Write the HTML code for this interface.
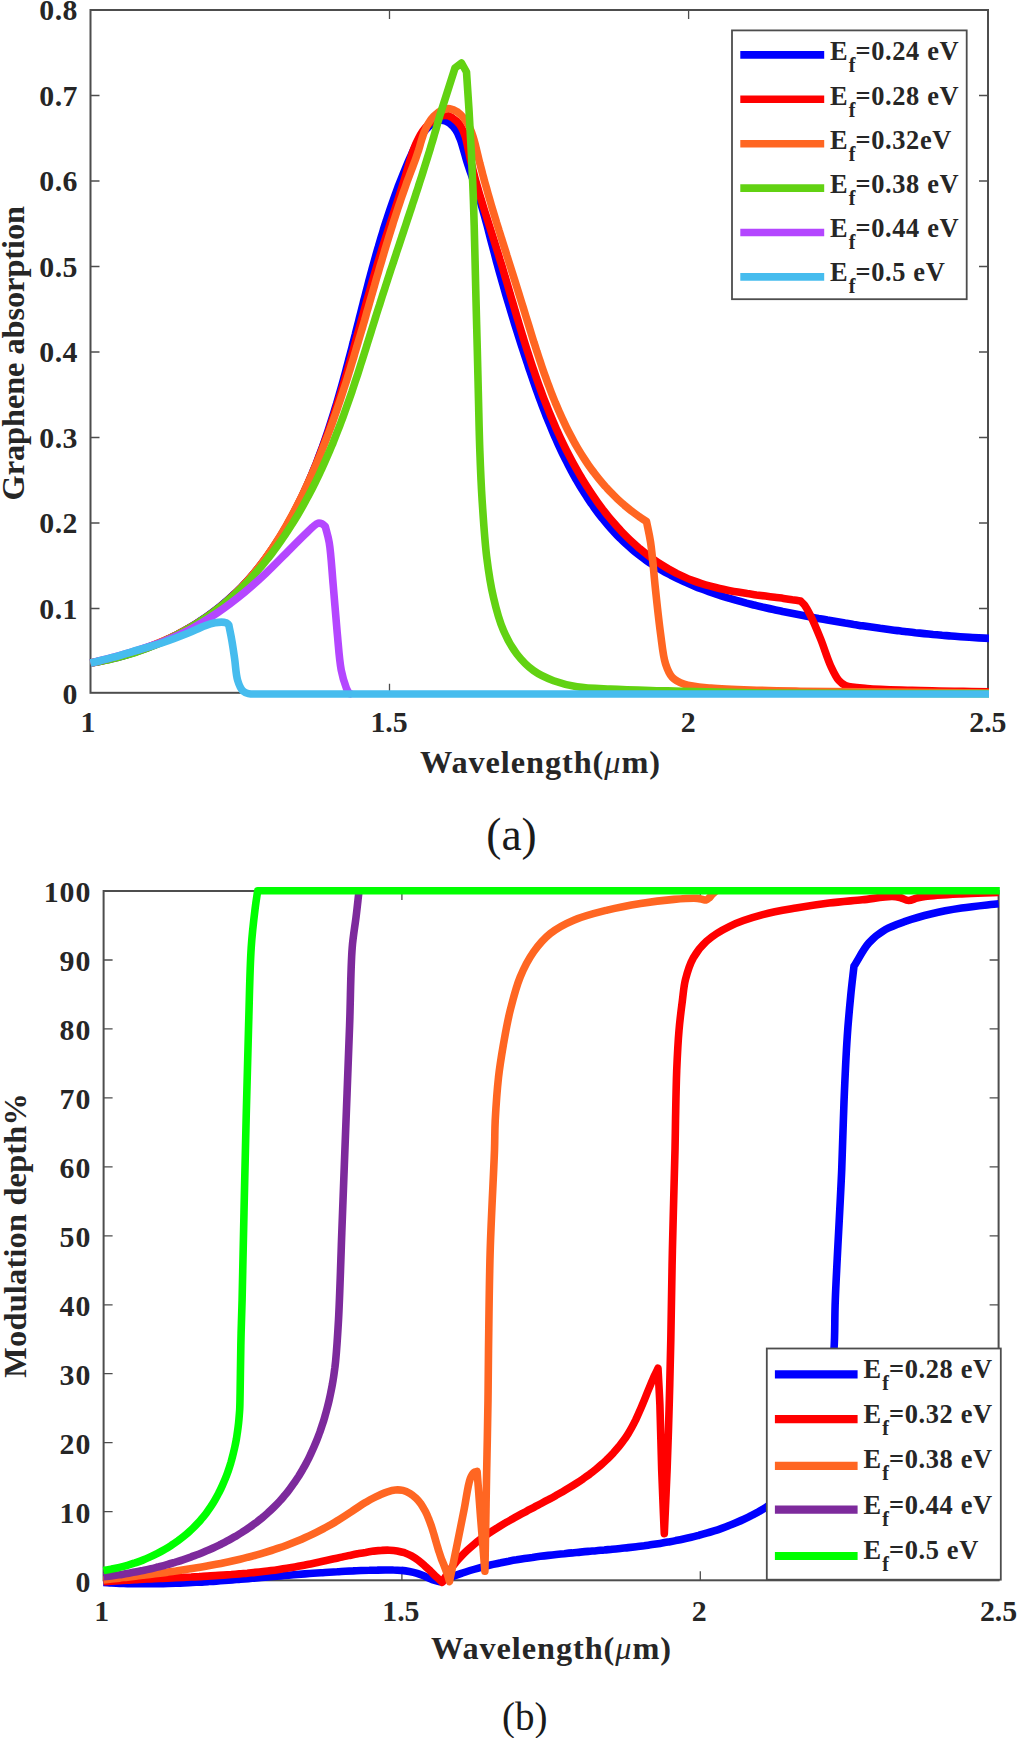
<!DOCTYPE html>
<html lang="en"><head><meta charset="utf-8"><title>Graphene absorption and modulation depth</title>
<style>html,body{margin:0;padding:0;background:#fff}svg{display:block}text{white-space:pre}</style></head>
<body>
<svg width="1017" height="1738" viewBox="0 0 1017 1738">
<rect width="1017" height="1738" fill="#fff"/>
<defs><clipPath id="ca"><rect x="86" y="5" width="903.0" height="700"/></clipPath><clipPath id="cb"><rect x="99" y="880" width="901.2" height="710"/></clipPath></defs>
<rect x="90.5" y="10.0" width="897.5" height="682.8" fill="none" stroke="#4d4d4d" stroke-width="2"/>
<path d="M389.5 692.8v-9.0M389.5 10.0v9.0" stroke="#4d4d4d" stroke-width="1.3" fill="none"/>
<path d="M688.6 692.8v-9.0M688.6 10.0v9.0" stroke="#4d4d4d" stroke-width="1.3" fill="none"/>
<path d="M90.5 608.5h9.0M988.0 608.5h-9.0" stroke="#4d4d4d" stroke-width="1.3" fill="none"/>
<path d="M90.5 523.0h9.0M988.0 523.0h-9.0" stroke="#4d4d4d" stroke-width="1.3" fill="none"/>
<path d="M90.5 437.5h9.0M988.0 437.5h-9.0" stroke="#4d4d4d" stroke-width="1.3" fill="none"/>
<path d="M90.5 352.0h9.0M988.0 352.0h-9.0" stroke="#4d4d4d" stroke-width="1.3" fill="none"/>
<path d="M90.5 266.5h9.0M988.0 266.5h-9.0" stroke="#4d4d4d" stroke-width="1.3" fill="none"/>
<path d="M90.5 181.0h9.0M988.0 181.0h-9.0" stroke="#4d4d4d" stroke-width="1.3" fill="none"/>
<path d="M90.5 95.5h9.0M988.0 95.5h-9.0" stroke="#4d4d4d" stroke-width="1.3" fill="none"/>
<text x="88.0" y="732.3" text-anchor="middle" style="font-family:'Liberation Serif','DejaVu Serif',serif;font-weight:bold;font-size:29.8px" fill="#262626">1</text>
<text x="389.0" y="732.3" text-anchor="middle" style="font-family:'Liberation Serif','DejaVu Serif',serif;font-weight:bold;font-size:29.8px" fill="#262626">1.5</text>
<text x="688.1" y="732.3" text-anchor="middle" style="font-family:'Liberation Serif','DejaVu Serif',serif;font-weight:bold;font-size:29.8px" fill="#262626">2</text>
<text x="987.9" y="732.3" text-anchor="middle" style="font-family:'Liberation Serif','DejaVu Serif',serif;font-weight:bold;font-size:29.8px" fill="#262626">2.5</text>
<text x="78" y="704.3" text-anchor="end" style="font-family:'Liberation Serif','DejaVu Serif',serif;font-weight:bold;font-size:29.8px;letter-spacing:0.5px" fill="#262626">0</text>
<text x="78" y="618.8" text-anchor="end" style="font-family:'Liberation Serif','DejaVu Serif',serif;font-weight:bold;font-size:29.8px;letter-spacing:0.5px" fill="#262626">0.1</text>
<text x="78" y="533.3" text-anchor="end" style="font-family:'Liberation Serif','DejaVu Serif',serif;font-weight:bold;font-size:29.8px;letter-spacing:0.5px" fill="#262626">0.2</text>
<text x="78" y="447.8" text-anchor="end" style="font-family:'Liberation Serif','DejaVu Serif',serif;font-weight:bold;font-size:29.8px;letter-spacing:0.5px" fill="#262626">0.3</text>
<text x="78" y="362.3" text-anchor="end" style="font-family:'Liberation Serif','DejaVu Serif',serif;font-weight:bold;font-size:29.8px;letter-spacing:0.5px" fill="#262626">0.4</text>
<text x="78" y="276.8" text-anchor="end" style="font-family:'Liberation Serif','DejaVu Serif',serif;font-weight:bold;font-size:29.8px;letter-spacing:0.5px" fill="#262626">0.5</text>
<text x="78" y="191.3" text-anchor="end" style="font-family:'Liberation Serif','DejaVu Serif',serif;font-weight:bold;font-size:29.8px;letter-spacing:0.5px" fill="#262626">0.6</text>
<text x="78" y="105.8" text-anchor="end" style="font-family:'Liberation Serif','DejaVu Serif',serif;font-weight:bold;font-size:29.8px;letter-spacing:0.5px" fill="#262626">0.7</text>
<text x="78" y="20.3" text-anchor="end" style="font-family:'Liberation Serif','DejaVu Serif',serif;font-weight:bold;font-size:29.8px;letter-spacing:0.5px" fill="#262626">0.8</text>
<text x="540" y="772.7" text-anchor="middle" textLength="240" lengthAdjust="spacing" style="font-family:'Liberation Serif','DejaVu Serif',serif;font-weight:bold;font-size:32.3px" fill="#262626">Wavelength(<tspan style="font-weight:normal;font-style:italic">μ</tspan>m)</text>
<text transform="translate(24.4 353.2) rotate(-90)" text-anchor="middle" textLength="294.5" lengthAdjust="spacing" style="font-family:'Liberation Serif','DejaVu Serif',serif;font-weight:bold;font-size:32.3px" fill="#262626">Graphene absorption</text>
<text x="511.5" y="849.8" text-anchor="middle" style="font-family:'Liberation Serif','DejaVu Serif',serif;font-size:45.5px" fill="#1a1a1a">(a)</text>
<g clip-path="url(#ca)" fill="none" stroke-width="7.6" stroke-linejoin="round" stroke-linecap="butt">
<path d="M90.5 663.0C93.5 662.5 96.4 662.0 99.4 661.4C102.4 660.9 105.3 660.3 108.3 659.6C111.2 658.9 114.2 658.2 117.1 657.5C120.0 656.7 122.9 655.9 125.9 655.1C128.8 654.2 131.7 653.3 134.5 652.4C137.4 651.4 140.3 650.4 143.1 649.4C146.0 648.4 148.8 647.3 151.6 646.2C154.4 645.1 157.2 643.9 160.0 642.7C162.8 641.5 165.5 640.2 168.3 638.9C171.0 637.6 173.7 636.2 176.4 634.9C179.1 633.5 181.7 632.0 184.3 630.6C187.0 629.1 189.6 627.6 192.2 626.0C194.7 624.4 197.3 622.8 199.8 621.2C202.3 619.5 204.8 617.8 207.3 616.1C209.7 614.4 212.1 612.6 214.5 610.8C216.9 609.0 219.3 607.1 221.6 605.2C223.9 603.3 226.2 601.4 228.4 599.4C230.6 597.4 232.8 595.4 235.0 593.4C237.2 591.3 239.3 589.2 241.4 587.1C243.5 585.0 245.5 582.8 247.5 580.6C249.5 578.4 251.5 576.1 253.4 573.9C255.4 571.6 257.2 569.3 259.1 566.9C261.0 564.6 262.8 562.2 264.6 559.8C266.4 557.4 268.1 555.0 269.9 552.5C271.6 550.1 273.3 547.6 274.9 545.1C276.6 542.6 278.2 540.0 279.8 537.5C281.4 534.9 283.0 532.3 284.5 529.7C286.1 527.1 287.6 524.5 289.0 521.8C290.5 519.2 292.0 516.5 293.4 513.8C294.8 511.1 296.2 508.4 297.6 505.7C298.9 503.0 300.2 500.2 301.6 497.5C302.9 494.7 304.1 492.0 305.4 489.2C306.7 486.4 307.9 483.6 309.1 480.8C310.3 478.0 311.5 475.2 312.6 472.4C313.8 469.5 314.9 466.7 316.1 463.9C317.2 461.0 318.3 458.2 319.3 455.3C320.4 452.5 321.4 449.6 322.5 446.8C323.5 443.9 324.5 441.0 325.5 438.2C326.5 435.3 327.5 432.4 328.4 429.6C329.4 426.7 330.3 423.8 331.2 420.9C332.1 418.0 333.0 415.2 333.9 412.3C334.8 409.4 335.7 406.5 336.6 403.6C337.4 400.7 338.3 397.8 339.1 394.9C339.9 392.0 340.8 389.1 341.6 386.2C342.4 383.3 343.2 380.4 344.0 377.5C344.8 374.6 345.6 371.7 346.3 368.8C347.1 365.9 347.9 363.0 348.6 360.1C349.4 357.2 350.2 354.3 350.9 351.4C351.7 348.5 352.4 345.6 353.2 342.6C353.9 339.7 354.6 336.8 355.4 333.9C356.1 331.0 356.9 328.1 357.6 325.2C358.3 322.3 359.1 319.4 359.8 316.5C360.5 313.6 361.3 310.6 362.0 307.7C362.7 304.8 363.5 301.9 364.2 299.0C365.0 296.1 365.7 293.2 366.5 290.3C367.2 287.4 368.0 284.5 368.7 281.6C369.5 278.7 370.3 275.8 371.0 272.9C371.8 270.0 372.6 267.1 373.4 264.2C374.2 261.4 375.0 258.5 375.8 255.6C376.6 252.7 377.4 249.8 378.3 246.9C379.1 244.1 380.0 241.2 380.8 238.3C381.7 235.4 382.6 232.6 383.4 229.7C384.3 226.8 385.2 224.0 386.2 221.1C387.1 218.2 388.0 215.4 389.0 212.5C389.9 209.7 390.9 206.8 391.9 204.0C392.9 201.2 393.9 198.3 394.9 195.5C395.9 192.7 397.0 189.8 398.0 187.0C399.1 184.2 400.2 181.4 401.3 178.6C402.4 175.8 403.5 173.0 404.7 170.2C405.9 167.4 407.0 164.6 408.2 161.8C409.4 159.0 410.7 156.3 411.9 153.5C413.2 150.8 414.4 148.0 415.8 145.3C417.1 142.6 418.5 139.9 420.1 137.3C421.8 134.8 423.5 132.2 425.6 129.9C427.7 127.6 430.1 125.1 432.7 123.5C435.3 121.9 438.3 120.3 441.1 120.3C443.9 120.2 446.9 121.6 449.4 123.1C451.9 124.8 454.1 127.6 455.9 130.2C457.7 132.8 458.9 135.9 460.1 138.9C461.3 141.9 462.1 145.2 463.1 148.3C464.0 151.3 464.8 154.4 465.7 157.4C466.5 160.3 467.4 163.1 468.3 165.9C469.2 168.7 470.2 171.4 471.1 174.1C472.0 176.8 472.9 179.4 473.8 182.1C474.7 184.7 475.7 187.3 476.6 190.0C477.5 192.7 478.4 195.4 479.2 198.1C480.1 200.9 481.0 203.8 481.8 206.6C482.7 209.5 483.5 212.4 484.3 215.3C485.1 218.3 485.9 221.3 486.8 224.3C487.6 227.3 488.4 230.4 489.1 233.4C489.9 236.4 490.7 239.5 491.5 242.5C492.3 245.5 493.1 248.5 493.9 251.5C494.7 254.5 495.5 257.5 496.2 260.4C497.0 263.3 497.8 266.3 498.6 269.2C499.4 272.1 500.2 274.9 501.0 277.8C501.8 280.7 502.6 283.5 503.5 286.4C504.3 289.2 505.1 292.0 505.9 294.9C506.7 297.7 507.6 300.5 508.4 303.3C509.2 306.1 510.1 308.9 510.9 311.7C511.8 314.5 512.6 317.3 513.5 320.1C514.3 322.9 515.2 325.7 516.1 328.5C517.0 331.3 517.8 334.1 518.7 336.9C519.6 339.7 520.5 342.5 521.4 345.3C522.3 348.2 523.3 351.0 524.2 353.9C525.1 356.7 526.1 359.6 527.0 362.4C528.0 365.3 528.9 368.2 529.9 371.1C530.9 374.0 531.9 376.9 532.9 379.8C533.9 382.6 534.9 385.5 535.9 388.4C536.9 391.3 538.0 394.2 539.0 397.1C540.1 400.0 541.2 402.9 542.3 405.8C543.4 408.7 544.5 411.6 545.6 414.5C546.8 417.4 547.9 420.3 549.1 423.1C550.3 426.0 551.5 428.9 552.7 431.7C553.9 434.6 555.1 437.4 556.4 440.2C557.6 443.0 558.9 445.9 560.2 448.7C561.5 451.4 562.9 454.2 564.2 457.0C565.6 459.7 567.0 462.5 568.4 465.2C569.8 467.9 571.2 470.6 572.7 473.3C574.2 476.0 575.6 478.7 577.2 481.3C578.7 483.9 580.2 486.5 581.8 489.1C583.4 491.7 585.0 494.2 586.7 496.7C588.3 499.3 590.0 501.7 591.7 504.2C593.4 506.7 595.1 509.1 596.9 511.5C598.7 513.8 600.5 516.2 602.4 518.5C604.2 520.8 606.1 523.1 608.0 525.3C609.9 527.6 611.9 529.8 613.9 531.9C615.9 534.1 617.9 536.2 620.0 538.3C622.1 540.3 624.2 542.4 626.3 544.3C628.5 546.3 630.7 548.2 632.9 550.1C635.1 552.0 637.4 553.8 639.7 555.6C642.1 557.4 644.4 559.1 646.8 560.8C649.2 562.5 651.7 564.1 654.2 565.6C656.7 567.2 659.2 568.7 661.7 570.2C664.3 571.7 666.9 573.1 669.5 574.5C672.2 575.9 674.8 577.3 677.5 578.6C680.2 579.9 682.9 581.1 685.7 582.4C688.4 583.6 691.2 584.8 694.0 585.9C696.8 587.1 699.6 588.2 702.5 589.3C705.3 590.3 708.2 591.4 711.1 592.4C714.0 593.4 716.9 594.4 719.8 595.3C722.7 596.3 725.7 597.2 728.6 598.1C731.6 598.9 734.5 599.8 737.5 600.6C740.5 601.5 743.5 602.3 746.5 603.1C749.5 603.8 752.5 604.6 755.5 605.3C758.5 606.1 761.5 606.8 764.5 607.5C767.5 608.2 770.6 608.9 773.6 609.5C776.6 610.2 779.6 610.8 782.6 611.5C785.6 612.1 788.6 612.7 791.7 613.3C794.7 613.9 797.7 614.5 800.7 615.1C803.6 615.7 806.6 616.3 809.6 616.8C812.6 617.4 815.5 617.9 818.5 618.5C821.5 619.0 824.4 619.5 827.4 620.1C830.3 620.6 833.2 621.1 836.2 621.6C839.1 622.1 842.1 622.6 845.0 623.1C847.9 623.5 850.8 624.0 853.8 624.5C856.7 624.9 859.6 625.4 862.5 625.8C865.5 626.3 868.4 626.7 871.3 627.1C874.2 627.5 877.1 627.9 880.1 628.3C883.0 628.7 885.9 629.1 888.9 629.5C891.8 629.9 894.7 630.3 897.6 630.6C900.6 631.0 903.5 631.3 906.5 631.7C909.4 632.0 912.4 632.3 915.3 632.7C918.3 633.0 921.2 633.3 924.2 633.6C927.2 633.9 930.1 634.2 933.1 634.5C936.1 634.7 939.1 635.0 942.1 635.3C945.1 635.5 948.1 635.8 951.1 636.0C954.2 636.3 957.2 636.5 960.2 636.7C963.3 636.9 966.3 637.1 969.4 637.3C972.5 637.5 975.4 637.7 978.7 637.9C982.2 638.1 986.2 638.2 990.0 638.4" stroke="#0000ff"/>
<path d="M90.5 663.0C93.4 662.4 96.4 661.9 99.3 661.3C102.3 660.7 105.2 660.1 108.1 659.4C111.1 658.7 114.0 658.0 116.9 657.2C119.8 656.4 122.8 655.6 125.7 654.8C128.6 653.9 131.5 653.0 134.4 652.1C137.3 651.1 140.2 650.1 143.0 649.1C145.9 648.1 148.7 647.0 151.6 645.9C154.4 644.8 157.2 643.7 160.0 642.5C162.8 641.3 165.6 640.0 168.4 638.8C171.1 637.5 173.8 636.2 176.6 634.8C179.3 633.4 181.9 632.0 184.6 630.6C187.2 629.1 189.9 627.6 192.5 626.1C195.1 624.5 197.6 622.9 200.2 621.3C202.7 619.7 205.2 618.0 207.6 616.2C210.1 614.5 212.5 612.8 214.9 610.9C217.3 609.1 219.6 607.3 221.9 605.4C224.2 603.5 226.5 601.5 228.7 599.5C230.9 597.5 233.1 595.5 235.2 593.4C237.4 591.4 239.5 589.2 241.6 587.1C243.6 584.9 245.7 582.7 247.7 580.5C249.7 578.3 251.6 576.0 253.5 573.7C255.5 571.5 257.3 569.1 259.2 566.8C261.1 564.4 262.9 562.0 264.7 559.6C266.5 557.2 268.2 554.7 269.9 552.2C271.6 549.8 273.3 547.3 275.0 544.7C276.7 542.2 278.3 539.7 279.9 537.1C281.5 534.5 283.0 531.9 284.6 529.3C286.1 526.7 287.6 524.0 289.1 521.4C290.6 518.7 292.0 516.0 293.5 513.3C294.9 510.6 296.3 507.9 297.6 505.2C299.0 502.5 300.4 499.7 301.7 497.0C303.0 494.2 304.3 491.4 305.6 488.7C306.8 485.9 308.1 483.1 309.3 480.3C310.5 477.5 311.7 474.7 312.9 471.9C314.1 469.1 315.2 466.3 316.4 463.4C317.5 460.6 318.6 457.8 319.7 455.0C320.8 452.1 321.9 449.3 322.9 446.5C324.0 443.6 325.0 440.8 326.0 437.9C327.1 435.1 328.1 432.2 329.1 429.4C330.0 426.5 331.0 423.6 332.0 420.8C332.9 417.9 333.9 415.0 334.8 412.2C335.7 409.3 336.6 406.4 337.5 403.5C338.4 400.7 339.3 397.8 340.2 394.9C341.1 392.0 342.0 389.1 342.8 386.2C343.7 383.4 344.6 380.5 345.4 377.6C346.2 374.7 347.1 371.8 347.9 368.9C348.7 366.0 349.6 363.1 350.4 360.2C351.2 357.3 352.0 354.4 352.8 351.5C353.6 348.6 354.4 345.7 355.2 342.8C356.0 339.9 356.8 337.0 357.6 334.1C358.4 331.2 359.2 328.3 360.0 325.4C360.8 322.5 361.6 319.6 362.4 316.7C363.2 313.8 364.0 310.9 364.8 308.0C365.6 305.1 366.4 302.2 367.2 299.3C368.1 296.4 368.9 293.6 369.7 290.7C370.5 287.8 371.3 284.9 372.2 282.0C373.0 279.1 373.8 276.2 374.7 273.4C375.5 270.5 376.4 267.6 377.2 264.7C378.1 261.8 378.9 259.0 379.8 256.1C380.7 253.2 381.6 250.4 382.5 247.5C383.4 244.6 384.3 241.8 385.2 238.9C386.1 236.1 387.1 233.2 388.0 230.3C388.9 227.5 389.9 224.6 390.8 221.8C391.7 218.9 392.7 216.0 393.6 213.2C394.6 210.3 395.5 207.4 396.4 204.6C397.4 201.7 398.3 198.8 399.2 195.9C400.2 193.0 401.1 190.1 402.0 187.2C402.9 184.3 403.8 181.4 404.7 178.4C405.6 175.5 406.4 172.6 407.3 169.6C408.2 166.6 409.0 163.7 409.9 160.7C410.8 157.8 411.7 154.8 412.7 151.9C413.7 149.1 414.8 146.2 416.0 143.4C417.3 140.7 418.6 137.9 420.1 135.3C421.7 132.7 423.4 130.2 425.4 127.8C427.4 125.5 429.6 123.1 432.0 121.1C434.4 119.2 437.2 117.0 440.0 116.2C442.7 115.3 445.9 115.1 448.6 115.9C451.4 116.7 454.2 118.8 456.4 120.9C458.7 123.0 460.5 125.6 461.9 128.3C463.4 130.9 464.4 133.8 465.3 136.7C466.2 139.7 466.8 142.7 467.5 145.8C468.1 148.8 468.7 151.9 469.4 154.9C470.0 157.9 470.7 160.9 471.5 163.9C472.2 166.9 472.9 169.9 473.7 172.9C474.4 175.8 475.2 178.8 476.0 181.7C476.8 184.6 477.7 187.5 478.5 190.4C479.3 193.3 480.2 196.2 481.1 199.1C481.9 202.0 482.8 204.9 483.7 207.8C484.6 210.6 485.5 213.5 486.4 216.3C487.3 219.2 488.2 222.0 489.1 224.9C490.0 227.7 490.9 230.6 491.8 233.4C492.7 236.3 493.6 239.1 494.5 242.0C495.4 244.8 496.3 247.7 497.2 250.6C498.1 253.4 499.0 256.3 499.8 259.1C500.7 262.0 501.6 264.9 502.5 267.7C503.3 270.6 504.2 273.5 505.0 276.4C505.9 279.3 506.7 282.1 507.6 285.0C508.4 287.9 509.3 290.8 510.1 293.7C511.0 296.6 511.8 299.4 512.7 302.3C513.5 305.2 514.4 308.1 515.2 311.0C516.1 313.9 516.9 316.8 517.8 319.7C518.7 322.6 519.5 325.4 520.4 328.3C521.3 331.2 522.2 334.1 523.0 337.0C523.9 339.9 524.8 342.8 525.7 345.6C526.6 348.5 527.5 351.4 528.5 354.3C529.4 357.1 530.3 360.0 531.3 362.9C532.2 365.7 533.2 368.6 534.2 371.5C535.1 374.3 536.1 377.2 537.1 380.0C538.1 382.9 539.1 385.7 540.2 388.6C541.2 391.4 542.2 394.2 543.3 397.1C544.4 399.9 545.5 402.7 546.6 405.5C547.7 408.3 548.8 411.2 550.0 414.0C551.1 416.8 552.3 419.5 553.5 422.3C554.7 425.1 555.9 427.9 557.1 430.7C558.4 433.4 559.6 436.2 560.9 438.9C562.2 441.7 563.5 444.4 564.9 447.2C566.2 449.9 567.6 452.6 569.0 455.3C570.4 458.0 571.8 460.7 573.3 463.4C574.8 466.1 576.3 468.8 577.8 471.4C579.3 474.1 580.9 476.7 582.4 479.3C584.0 481.9 585.6 484.5 587.3 487.1C588.9 489.7 590.6 492.2 592.3 494.7C594.0 497.2 595.7 499.7 597.5 502.2C599.3 504.7 601.1 507.1 602.9 509.5C604.8 511.9 606.6 514.3 608.5 516.6C610.4 518.9 612.4 521.2 614.4 523.5C616.3 525.8 618.3 528.0 620.4 530.2C622.4 532.4 624.5 534.5 626.6 536.6C628.7 538.7 630.9 540.8 633.1 542.8C635.3 544.8 637.5 546.7 639.8 548.7C642.0 550.6 644.3 552.4 646.7 554.2C649.0 556.1 651.4 557.8 653.8 559.5C656.2 561.2 658.7 562.9 661.2 564.5C663.7 566.1 666.2 567.6 668.8 569.1C671.4 570.5 674.0 571.9 676.6 573.3C679.3 574.6 682.0 575.9 684.7 577.1C687.5 578.4 690.2 579.5 693.0 580.6C695.9 581.7 698.7 582.7 701.6 583.6C704.6 584.6 707.5 585.4 710.5 586.2C713.5 587.0 716.5 587.8 719.5 588.5C722.5 589.2 725.6 589.8 728.7 590.4C731.7 591.0 734.8 591.6 737.9 592.1C741.0 592.6 744.1 593.1 747.2 593.6C750.3 594.0 753.3 594.5 756.4 594.9C759.5 595.3 762.6 595.7 765.6 596.1C768.6 596.5 771.7 596.9 774.7 597.3C777.6 597.7 780.6 598.0 783.5 598.4C786.4 598.8 789.3 599.2 792.2 599.7C795.0 600.1 797.7 600.6 800.5 601.0C801.8 602.3 803.1 603.2 804.5 605.0C806.5 607.7 808.5 611.6 810.7 616.0C813.8 622.2 817.5 631.2 820.7 639.2C824.1 647.7 827.2 658.2 830.6 665.7C833.3 671.5 835.9 677.2 838.9 680.6C841.0 683.0 842.4 684.3 845.5 685.6C850.4 687.6 858.5 687.8 867.0 688.5C879.2 689.6 894.9 689.8 912.0 690.3C934.4 691.0 964.0 691.3 990.0 691.8" stroke="#ff0000"/>
<path d="M90.5 663.0C93.4 662.4 96.3 661.9 99.2 661.2C102.1 660.6 105.0 660.0 107.9 659.3C110.8 658.6 113.7 657.8 116.6 657.1C119.5 656.3 122.4 655.5 125.3 654.6C128.2 653.8 131.1 652.9 134.0 652.0C136.8 651.1 139.7 650.1 142.6 649.1C145.4 648.1 148.3 647.1 151.1 646.0C153.9 644.9 156.8 643.8 159.6 642.6C162.4 641.4 165.1 640.2 167.9 639.0C170.6 637.7 173.4 636.4 176.1 635.1C178.8 633.7 181.5 632.4 184.1 630.9C186.8 629.5 189.4 628.0 192.0 626.5C194.6 625.0 197.2 623.5 199.7 621.9C202.2 620.2 204.7 618.6 207.2 616.9C209.6 615.2 212.1 613.5 214.4 611.7C216.8 609.9 219.1 608.0 221.4 606.1C223.7 604.2 226.0 602.3 228.2 600.3C230.4 598.3 232.6 596.3 234.7 594.3C236.8 592.2 238.9 590.1 241.0 587.9C243.0 585.8 245.0 583.6 247.0 581.4C249.0 579.2 250.9 576.9 252.8 574.6C254.7 572.3 256.6 570.0 258.4 567.6C260.2 565.3 262.0 562.9 263.8 560.5C265.6 558.1 267.3 555.6 269.0 553.1C270.7 550.7 272.4 548.2 274.0 545.7C275.7 543.1 277.3 540.6 278.9 538.0C280.4 535.5 282.0 532.9 283.5 530.3C285.1 527.7 286.6 525.1 288.0 522.4C289.5 519.8 291.0 517.2 292.4 514.5C293.8 511.8 295.2 509.2 296.6 506.5C298.0 503.8 299.3 501.1 300.7 498.4C302.0 495.7 303.3 493.0 304.6 490.3C305.9 487.6 307.2 484.8 308.4 482.1C309.7 479.4 310.9 476.6 312.1 473.9C313.3 471.1 314.5 468.3 315.7 465.6C316.9 462.8 318.0 460.0 319.2 457.3C320.3 454.5 321.4 451.7 322.5 448.9C323.6 446.1 324.7 443.3 325.8 440.5C326.9 437.7 327.9 434.9 329.0 432.0C330.0 429.2 331.1 426.4 332.1 423.6C333.1 420.7 334.1 417.9 335.1 415.1C336.1 412.2 337.1 409.4 338.0 406.5C339.0 403.7 340.0 400.8 340.9 398.0C341.9 395.1 342.8 392.3 343.7 389.4C344.6 386.5 345.6 383.7 346.5 380.8C347.4 377.9 348.3 375.1 349.2 372.2C350.1 369.3 350.9 366.4 351.8 363.5C352.7 360.7 353.6 357.8 354.4 354.9C355.3 352.0 356.1 349.1 357.0 346.2C357.8 343.4 358.7 340.5 359.5 337.6C360.4 334.7 361.2 331.8 362.1 328.9C362.9 326.0 363.7 323.1 364.6 320.3C365.4 317.4 366.2 314.5 367.0 311.6C367.9 308.7 368.7 305.8 369.5 302.9C370.3 300.0 371.2 297.2 372.0 294.3C372.8 291.4 373.6 288.5 374.5 285.6C375.3 282.8 376.1 279.9 376.9 277.0C377.8 274.1 378.6 271.3 379.4 268.4C380.3 265.5 381.1 262.6 382.0 259.8C382.8 256.9 383.7 254.1 384.5 251.2C385.4 248.3 386.2 245.5 387.1 242.6C388.0 239.8 388.8 237.0 389.7 234.1C390.6 231.3 391.5 228.4 392.4 225.6C393.2 222.8 394.1 220.0 395.1 217.1C396.0 214.3 396.9 211.5 397.8 208.7C398.7 205.9 399.7 203.1 400.6 200.3C401.6 197.5 402.5 194.7 403.5 191.9C404.5 189.2 405.5 186.4 406.4 183.6C407.4 180.8 408.5 178.1 409.5 175.3C410.5 172.6 411.5 169.9 412.6 167.1C413.6 164.3 414.7 161.6 415.7 158.8C416.7 156.0 417.6 153.1 418.6 150.2C419.5 147.2 420.3 144.2 421.2 141.2C422.2 138.2 423.1 135.1 424.2 132.2C425.4 129.3 426.6 126.3 428.2 123.7C429.8 121.0 431.6 118.4 433.8 116.2C436.0 114.0 438.6 111.7 441.3 110.5C443.9 109.3 447.1 108.5 449.8 108.7C452.6 109.1 455.5 110.7 458.0 112.3C460.5 114.0 462.7 116.6 464.6 119.0C466.6 121.5 468.1 124.3 469.5 127.1C470.9 130.0 471.9 133.0 472.9 136.1C473.9 139.1 474.7 142.3 475.5 145.4C476.3 148.5 477.0 151.6 477.7 154.7C478.4 157.7 479.2 160.7 479.9 163.6C480.7 166.6 481.4 169.4 482.2 172.3C482.9 175.2 483.7 178.0 484.4 180.8C485.2 183.6 486.0 186.4 486.8 189.1C487.5 191.9 488.3 194.7 489.1 197.4C489.9 200.2 490.7 202.9 491.5 205.7C492.3 208.4 493.2 211.2 494.0 214.0C494.8 216.7 495.7 219.5 496.5 222.3C497.4 225.1 498.3 227.9 499.1 230.6C500.0 233.4 500.9 236.2 501.7 239.0C502.6 241.8 503.5 244.7 504.4 247.5C505.3 250.3 506.2 253.1 507.0 255.9C507.9 258.8 508.8 261.6 509.7 264.4C510.6 267.3 511.5 270.1 512.4 273.0C513.3 275.8 514.2 278.7 515.1 281.5C516.0 284.4 516.9 287.3 517.8 290.2C518.7 293.1 519.6 295.9 520.5 298.8C521.4 301.7 522.3 304.6 523.2 307.5C524.1 310.4 525.0 313.4 525.9 316.3C526.8 319.2 527.7 322.1 528.6 325.0C529.5 328.0 530.4 330.9 531.3 333.8C532.2 336.7 533.1 339.6 534.0 342.6C535.0 345.5 535.9 348.4 536.8 351.3C537.8 354.2 538.7 357.1 539.7 360.0C540.7 362.9 541.6 365.8 542.6 368.7C543.6 371.6 544.6 374.5 545.7 377.4C546.7 380.2 547.7 383.1 548.8 385.9C549.9 388.8 550.9 391.6 552.0 394.4C553.1 397.3 554.3 400.1 555.4 402.9C556.6 405.6 557.8 408.4 559.0 411.2C560.2 413.9 561.4 416.7 562.7 419.4C563.9 422.1 565.2 424.8 566.5 427.5C567.8 430.2 569.2 432.8 570.6 435.4C572.0 438.1 573.4 440.7 574.8 443.3C576.3 445.8 577.8 448.4 579.3 450.9C580.8 453.4 582.4 455.9 584.0 458.4C585.6 460.9 587.2 463.3 588.9 465.7C590.6 468.1 592.4 470.5 594.1 472.8C595.9 475.2 597.7 477.5 599.6 479.7C601.5 482.0 603.4 484.3 605.3 486.5C607.3 488.6 609.3 490.8 611.4 492.9C613.4 495.0 615.6 497.1 617.7 499.2C619.9 501.2 622.1 503.2 624.4 505.2C626.7 507.1 629.0 509.0 631.4 510.9C633.8 512.7 636.3 514.6 638.8 516.3C641.3 518.1 643.9 519.8 646.5 521.5C647.9 528.4 649.3 533.9 650.6 542.3C652.5 555.0 653.9 574.9 655.6 590.5C657.2 605.4 658.8 620.8 660.6 633.9C662.1 644.9 663.0 656.1 665.6 664.0C667.4 669.5 669.1 674.0 672.3 677.4C675.3 680.6 679.1 682.4 684.0 684.1C690.9 686.5 700.5 687.1 710.8 688.1C724.9 689.5 745.2 689.8 760.9 690.3C774.7 690.8 782.1 690.9 800.0 691.2C839.5 691.8 926.7 692.4 990.0 693.0" stroke="#ff6622"/>
<path d="M90.5 663.0C93.5 662.5 96.6 662.0 99.6 661.5C102.6 660.9 105.6 660.3 108.6 659.7C111.6 659.0 114.5 658.3 117.5 657.6C120.4 656.8 123.4 656.0 126.3 655.2C129.2 654.3 132.1 653.4 135.0 652.5C137.9 651.6 140.8 650.6 143.6 649.5C146.5 648.5 149.3 647.4 152.1 646.3C155.0 645.2 157.7 644.0 160.5 642.8C163.3 641.6 166.0 640.3 168.8 639.0C171.5 637.7 174.2 636.4 176.8 635.0C179.5 633.6 182.2 632.2 184.8 630.7C187.4 629.2 190.0 627.7 192.6 626.2C195.1 624.6 197.7 623.0 200.2 621.3C202.7 619.7 205.2 618.0 207.6 616.3C210.1 614.6 212.5 612.8 214.9 611.0C217.3 609.2 219.6 607.3 222.0 605.5C224.3 603.6 226.6 601.6 228.8 599.7C231.1 597.7 233.3 595.7 235.5 593.7C237.7 591.6 239.9 589.6 242.0 587.5C244.1 585.4 246.2 583.2 248.3 581.1C250.4 578.9 252.4 576.7 254.4 574.5C256.4 572.2 258.4 570.0 260.3 567.7C262.3 565.4 264.2 563.0 266.1 560.7C268.0 558.4 269.9 556.0 271.7 553.6C273.5 551.2 275.3 548.8 277.1 546.3C278.9 543.9 280.6 541.4 282.3 538.9C284.1 536.4 285.8 533.9 287.4 531.3C289.1 528.8 290.7 526.2 292.3 523.7C294.0 521.1 295.5 518.5 297.1 515.9C298.7 513.3 300.2 510.6 301.7 508.0C303.2 505.3 304.7 502.7 306.1 500.0C307.6 497.3 309.0 494.7 310.4 492.0C311.8 489.3 313.2 486.5 314.6 483.8C315.9 481.1 317.2 478.4 318.6 475.6C319.9 472.9 321.1 470.1 322.4 467.4C323.7 464.6 324.9 461.9 326.1 459.1C327.3 456.3 328.5 453.5 329.7 450.7C330.9 448.0 332.0 445.2 333.2 442.4C334.3 439.6 335.4 436.8 336.5 433.9C337.6 431.1 338.7 428.3 339.8 425.5C340.9 422.7 341.9 419.8 343.0 417.0C344.0 414.2 345.0 411.3 346.0 408.5C347.0 405.6 348.0 402.8 349.0 399.9C350.0 397.1 351.0 394.2 352.0 391.4C352.9 388.5 353.9 385.7 354.8 382.8C355.8 379.9 356.7 377.1 357.7 374.2C358.6 371.3 359.5 368.4 360.4 365.6C361.4 362.7 362.3 359.8 363.2 356.9C364.1 354.0 365.0 351.2 365.9 348.3C366.8 345.4 367.7 342.5 368.6 339.6C369.5 336.8 370.4 333.9 371.3 331.0C372.2 328.1 373.1 325.2 374.0 322.3C374.9 319.4 375.8 316.6 376.7 313.7C377.6 310.8 378.5 307.9 379.5 305.0C380.4 302.2 381.3 299.3 382.2 296.4C383.1 293.5 384.1 290.6 385.0 287.8C385.9 284.9 386.9 282.0 387.8 279.2C388.7 276.3 389.7 273.4 390.6 270.5C391.6 267.7 392.5 264.8 393.5 261.9C394.4 259.1 395.4 256.2 396.3 253.3C397.3 250.5 398.2 247.6 399.2 244.7C400.1 241.9 401.1 239.0 402.0 236.1C403.0 233.3 403.9 230.4 404.9 227.5C405.8 224.7 406.8 221.8 407.7 218.9C408.7 216.1 409.6 213.2 410.6 210.3C411.5 207.4 412.5 204.6 413.4 201.7C414.4 198.8 415.3 196.0 416.2 193.1C417.2 190.2 418.1 187.3 419.0 184.5C419.9 181.6 420.9 178.7 421.8 175.8C422.7 172.9 423.6 170.1 424.5 167.2C425.4 164.3 426.3 161.4 427.2 158.5C428.1 155.6 429.0 152.7 429.9 149.9C430.7 147.0 431.6 144.1 432.5 141.2C433.3 138.3 434.2 135.4 435.0 132.5C435.9 129.6 436.7 126.7 437.5 123.7C438.4 120.8 439.2 117.9 440.0 115.0L455.0 68.0L461.5 63.0L466.5 72.0L469.0 110.0C469.7 123.3 470.5 135.9 471.2 150.0C472.0 165.7 472.8 183.3 473.4 200.0C474.0 216.7 474.4 233.3 474.8 250.0C475.2 266.7 475.6 283.3 476.0 300.0C476.4 316.7 476.9 333.3 477.3 350.0C477.7 366.7 478.1 383.3 478.5 400.0C478.9 416.7 479.2 433.3 479.8 450.0C480.4 466.7 481.0 482.8 482.1 500.0C483.3 518.4 484.6 539.7 486.7 557.0C488.5 571.6 490.4 584.4 493.4 597.1C496.1 608.9 499.2 620.6 503.5 630.6C507.2 639.3 511.6 647.2 516.8 654.0C521.7 660.4 527.4 666.2 533.6 670.7C539.7 675.1 546.5 678.1 553.6 680.7C561.0 683.4 568.4 685.3 577.0 686.7C587.1 688.3 598.2 688.5 610.5 689.1C625.5 689.9 641.1 690.2 660.6 690.7C688.1 691.5 720.0 692.5 760.0 693.0C820.8 693.8 913.3 693.4 990.0 693.6" stroke="#62d212"/>
<path d="M90.5 663.0C97.5 661.2 104.1 659.7 111.5 657.7C119.8 655.4 129.2 652.8 138.0 650.0C146.9 647.2 155.8 644.5 164.6 641.0C173.6 637.4 182.5 633.5 191.2 628.8C200.2 624.0 209.1 618.4 217.8 612.5C226.8 606.4 236.1 599.2 244.3 592.5C251.9 586.2 258.5 580.3 265.7 573.5C273.5 566.2 282.2 557.0 289.3 550.0C295.1 544.2 300.8 538.5 305.1 534.3C308.0 531.5 310.2 529.2 312.5 527.2C314.4 525.6 316.2 523.6 318.0 523.2C319.4 522.9 320.8 523.3 322.0 523.8C323.2 524.3 324.2 525.6 325.3 526.5C326.6 531.8 328.1 535.8 329.2 542.5C331.0 553.2 331.9 570.4 333.2 585.0C334.6 600.4 335.8 617.8 337.2 632.7C338.5 645.9 339.2 659.7 341.2 669.9C342.6 677.2 344.9 684.3 346.5 688.5C347.4 690.7 348.2 691.8 349.0 693.5L352.0 694.0" stroke="#b446ff"/>
<path d="M90.5 663.0C97.5 661.2 104.1 659.7 111.5 657.7C119.9 655.4 129.2 652.6 138.1 650.0C146.9 647.4 156.1 644.9 164.6 642.0C172.6 639.3 180.5 636.2 187.7 633.3C194.0 630.7 200.3 627.4 205.4 625.6C209.0 624.3 212.1 623.4 215.0 622.8C217.4 622.3 219.5 622.1 221.5 622.1C223.1 622.1 224.7 622.3 226.0 622.8C227.1 623.3 227.9 624.2 228.8 624.9C229.8 630.2 231.0 635.3 231.9 640.8C232.9 646.5 233.7 652.3 234.6 658.5C235.6 665.4 235.9 674.6 237.7 680.5C239.0 684.8 240.8 688.9 243.0 691.1C244.6 692.6 246.1 693.1 248.3 693.6C251.4 694.3 256.1 693.9 260.0 694.0L990.0 694.0" stroke="#46bcee"/>
</g>
<rect x="732" y="30.4" width="234.7" height="268.8" fill="#fff" stroke="#4d4d4d" stroke-width="1.8"/>
<path d="M740.3 54.9H824.2" stroke="#0000ff" stroke-width="7.6" fill="none"/>
<text x="830" y="60.4" style="font-family:'Liberation Serif','DejaVu Serif',serif;font-weight:bold;font-size:26.4px" fill="#262626">E<tspan dy="12" dx="1.2" style="font-size:20px">f</tspan><tspan dy="-12" style="letter-spacing:0.65px">=0.24 eV</tspan></text>
<path d="M740.3 99.3H824.2" stroke="#ff0000" stroke-width="7.6" fill="none"/>
<text x="830" y="104.5" style="font-family:'Liberation Serif','DejaVu Serif',serif;font-weight:bold;font-size:26.4px" fill="#262626">E<tspan dy="12" dx="1.2" style="font-size:20px">f</tspan><tspan dy="-12" style="letter-spacing:0.65px">=0.28 eV</tspan></text>
<path d="M740.3 143.7H824.2" stroke="#ff6622" stroke-width="7.6" fill="none"/>
<text x="830" y="148.6" style="font-family:'Liberation Serif','DejaVu Serif',serif;font-weight:bold;font-size:26.4px" fill="#262626">E<tspan dy="12" dx="1.2" style="font-size:20px">f</tspan><tspan dy="-12" style="letter-spacing:0.65px">=0.32eV</tspan></text>
<path d="M740.3 188.1H824.2" stroke="#62d212" stroke-width="7.6" fill="none"/>
<text x="830" y="192.7" style="font-family:'Liberation Serif','DejaVu Serif',serif;font-weight:bold;font-size:26.4px" fill="#262626">E<tspan dy="12" dx="1.2" style="font-size:20px">f</tspan><tspan dy="-12" style="letter-spacing:0.65px">=0.38 eV</tspan></text>
<path d="M740.3 232.5H824.2" stroke="#b446ff" stroke-width="7.6" fill="none"/>
<text x="830" y="236.8" style="font-family:'Liberation Serif','DejaVu Serif',serif;font-weight:bold;font-size:26.4px" fill="#262626">E<tspan dy="12" dx="1.2" style="font-size:20px">f</tspan><tspan dy="-12" style="letter-spacing:0.65px">=0.44 eV</tspan></text>
<path d="M740.3 276.9H824.2" stroke="#46bcee" stroke-width="7.6" fill="none"/>
<text x="830" y="280.9" style="font-family:'Liberation Serif','DejaVu Serif',serif;font-weight:bold;font-size:26.4px" fill="#262626">E<tspan dy="12" dx="1.2" style="font-size:20px">f</tspan><tspan dy="-12" style="letter-spacing:0.65px">=0.5 eV</tspan></text>
<rect x="103.6" y="891.0" width="895.0" height="689.3" fill="none" stroke="#4d4d4d" stroke-width="2"/>
<path d="M401.9 1580.3v-9.0M401.9 891.0v9.0" stroke="#4d4d4d" stroke-width="1.3" fill="none"/>
<path d="M700.3 1580.3v-9.0M700.3 891.0v9.0" stroke="#4d4d4d" stroke-width="1.3" fill="none"/>
<path d="M103.6 1511.6h9.0M998.6 1511.6h-9.0" stroke="#4d4d4d" stroke-width="1.3" fill="none"/>
<path d="M103.6 1442.7h9.0M998.6 1442.7h-9.0" stroke="#4d4d4d" stroke-width="1.3" fill="none"/>
<path d="M103.6 1373.7h9.0M998.6 1373.7h-9.0" stroke="#4d4d4d" stroke-width="1.3" fill="none"/>
<path d="M103.6 1304.8h9.0M998.6 1304.8h-9.0" stroke="#4d4d4d" stroke-width="1.3" fill="none"/>
<path d="M103.6 1235.8h9.0M998.6 1235.8h-9.0" stroke="#4d4d4d" stroke-width="1.3" fill="none"/>
<path d="M103.6 1166.8h9.0M998.6 1166.8h-9.0" stroke="#4d4d4d" stroke-width="1.3" fill="none"/>
<path d="M103.6 1097.9h9.0M998.6 1097.9h-9.0" stroke="#4d4d4d" stroke-width="1.3" fill="none"/>
<path d="M103.6 1028.9h9.0M998.6 1028.9h-9.0" stroke="#4d4d4d" stroke-width="1.3" fill="none"/>
<path d="M103.6 960.0h9.0M998.6 960.0h-9.0" stroke="#4d4d4d" stroke-width="1.3" fill="none"/>
<text x="101.8" y="1620.8" text-anchor="middle" style="font-family:'Liberation Serif','DejaVu Serif',serif;font-weight:bold;font-size:29.8px" fill="#262626">1</text>
<text x="400.9" y="1620.8" text-anchor="middle" style="font-family:'Liberation Serif','DejaVu Serif',serif;font-weight:bold;font-size:29.8px" fill="#262626">1.5</text>
<text x="699.3" y="1620.8" text-anchor="middle" style="font-family:'Liberation Serif','DejaVu Serif',serif;font-weight:bold;font-size:29.8px" fill="#262626">2</text>
<text x="998.6" y="1620.8" text-anchor="middle" style="font-family:'Liberation Serif','DejaVu Serif',serif;font-weight:bold;font-size:29.8px" fill="#262626">2.5</text>
<text x="91.2" y="1591.6" text-anchor="end" style="font-family:'Liberation Serif','DejaVu Serif',serif;font-weight:bold;font-size:29.8px;letter-spacing:0.9px" fill="#262626">0</text>
<text x="91.2" y="1522.6" text-anchor="end" style="font-family:'Liberation Serif','DejaVu Serif',serif;font-weight:bold;font-size:29.8px;letter-spacing:0.9px" fill="#262626">10</text>
<text x="91.2" y="1453.7" text-anchor="end" style="font-family:'Liberation Serif','DejaVu Serif',serif;font-weight:bold;font-size:29.8px;letter-spacing:0.9px" fill="#262626">20</text>
<text x="91.2" y="1384.7" text-anchor="end" style="font-family:'Liberation Serif','DejaVu Serif',serif;font-weight:bold;font-size:29.8px;letter-spacing:0.9px" fill="#262626">30</text>
<text x="91.2" y="1315.8" text-anchor="end" style="font-family:'Liberation Serif','DejaVu Serif',serif;font-weight:bold;font-size:29.8px;letter-spacing:0.9px" fill="#262626">40</text>
<text x="91.2" y="1246.8" text-anchor="end" style="font-family:'Liberation Serif','DejaVu Serif',serif;font-weight:bold;font-size:29.8px;letter-spacing:0.9px" fill="#262626">50</text>
<text x="91.2" y="1177.8" text-anchor="end" style="font-family:'Liberation Serif','DejaVu Serif',serif;font-weight:bold;font-size:29.8px;letter-spacing:0.9px" fill="#262626">60</text>
<text x="91.2" y="1108.9" text-anchor="end" style="font-family:'Liberation Serif','DejaVu Serif',serif;font-weight:bold;font-size:29.8px;letter-spacing:0.9px" fill="#262626">70</text>
<text x="91.2" y="1039.9" text-anchor="end" style="font-family:'Liberation Serif','DejaVu Serif',serif;font-weight:bold;font-size:29.8px;letter-spacing:0.9px" fill="#262626">80</text>
<text x="91.2" y="971.0" text-anchor="end" style="font-family:'Liberation Serif','DejaVu Serif',serif;font-weight:bold;font-size:29.8px;letter-spacing:0.9px" fill="#262626">90</text>
<text x="91.2" y="902.0" text-anchor="end" style="font-family:'Liberation Serif','DejaVu Serif',serif;font-weight:bold;font-size:29.8px;letter-spacing:0.9px" fill="#262626">100</text>
<text x="551" y="1658.8" text-anchor="middle" textLength="240" lengthAdjust="spacing" style="font-family:'Liberation Serif','DejaVu Serif',serif;font-weight:bold;font-size:32.3px" fill="#262626">Wavelength(<tspan style="font-weight:normal;font-style:italic">μ</tspan>m)</text>
<text transform="translate(26.3 1235.4) rotate(-90)" text-anchor="middle" textLength="284.5" lengthAdjust="spacing" style="font-family:'Liberation Serif','DejaVu Serif',serif;font-weight:bold;font-size:32.3px" fill="#262626">Modulation depth%</text>
<text x="524.7" y="1730" text-anchor="middle" style="font-family:'Liberation Serif','DejaVu Serif',serif;font-size:39px" fill="#1a1a1a">(b)</text>
<g clip-path="url(#cb)" fill="none" stroke-width="7.6" stroke-linejoin="round" stroke-linecap="butt">
<path d="M103.4 1582.5C106.1 1582.7 108.8 1582.8 111.5 1583.0C114.2 1583.1 116.9 1583.2 119.6 1583.4C122.2 1583.5 124.9 1583.5 127.6 1583.6C130.3 1583.7 133.0 1583.7 135.7 1583.8C138.4 1583.8 141.1 1583.8 143.8 1583.8C146.5 1583.8 149.1 1583.8 151.8 1583.8C154.5 1583.8 157.2 1583.8 159.9 1583.7C162.6 1583.7 165.3 1583.6 168.0 1583.5C170.7 1583.4 173.3 1583.3 176.0 1583.3C178.7 1583.2 181.4 1583.0 184.1 1582.9C186.8 1582.8 189.5 1582.7 192.2 1582.5C194.8 1582.4 197.5 1582.2 200.2 1582.1C202.9 1581.9 205.6 1581.8 208.3 1581.6C211.0 1581.4 213.6 1581.2 216.3 1581.1C219.0 1580.9 221.7 1580.7 224.4 1580.5C227.1 1580.3 229.8 1580.1 232.4 1579.9C235.1 1579.7 237.8 1579.4 240.5 1579.2C243.2 1579.0 245.9 1578.8 248.6 1578.6C251.2 1578.4 253.9 1578.1 256.6 1577.9C259.3 1577.7 262.0 1577.5 264.7 1577.2C267.3 1577.0 270.0 1576.8 272.7 1576.5C275.4 1576.3 278.1 1576.1 280.8 1575.9C283.4 1575.6 286.1 1575.4 288.8 1575.2C291.5 1575.0 294.2 1574.8 296.9 1574.5C299.5 1574.3 302.2 1574.1 304.9 1573.9C307.6 1573.7 310.3 1573.5 313.0 1573.3C315.6 1573.1 318.3 1572.9 321.0 1572.7C323.7 1572.5 326.4 1572.4 329.1 1572.2C331.7 1572.0 334.4 1571.8 337.1 1571.7C339.8 1571.5 342.5 1571.4 345.2 1571.2C347.8 1571.1 350.5 1571.0 353.2 1570.9C355.9 1570.7 358.6 1570.6 361.2 1570.5C363.9 1570.4 366.6 1570.3 369.3 1570.3C372.0 1570.2 374.7 1570.1 377.3 1570.1C380.0 1570.0 382.7 1570.0 385.4 1570.0C388.1 1570.0 390.8 1569.9 393.4 1570.0C396.1 1570.0 398.8 1570.1 401.4 1570.4C404.1 1570.6 406.7 1570.9 409.3 1571.4C412.0 1571.9 414.6 1572.5 417.1 1573.3C419.7 1574.1 422.2 1575.3 424.7 1576.3C427.3 1577.4 429.7 1578.7 432.3 1579.6C434.8 1580.5 437.4 1581.1 440.0 1581.8C442.5 1580.7 444.9 1579.6 447.4 1578.6C449.9 1577.6 452.4 1576.6 454.9 1575.7C457.4 1574.7 459.9 1573.9 462.4 1573.0C465.0 1572.1 467.5 1571.3 470.0 1570.5C472.6 1569.7 475.1 1569.0 477.7 1568.3C480.2 1567.6 482.8 1566.9 485.4 1566.2C488.0 1565.6 490.5 1565.0 493.1 1564.4C495.7 1563.8 498.3 1563.2 500.9 1562.7C503.5 1562.1 506.1 1561.6 508.7 1561.2C511.3 1560.7 514.0 1560.2 516.6 1559.8C519.2 1559.3 521.8 1558.9 524.5 1558.5C527.1 1558.1 529.8 1557.7 532.4 1557.4C535.0 1557.0 537.7 1556.6 540.3 1556.3C543.0 1556.0 545.6 1555.7 548.3 1555.4C551.0 1555.1 553.6 1554.8 556.3 1554.5C558.9 1554.2 561.6 1553.9 564.3 1553.7C566.9 1553.4 569.6 1553.1 572.3 1552.9C574.9 1552.6 577.6 1552.4 580.3 1552.1C583.0 1551.9 585.6 1551.7 588.3 1551.4C591.0 1551.2 593.6 1550.9 596.3 1550.7C599.0 1550.5 601.7 1550.2 604.3 1550.0C607.0 1549.7 609.7 1549.5 612.3 1549.2C615.0 1549.0 617.7 1548.7 620.3 1548.4C623.0 1548.1 625.6 1547.9 628.3 1547.6C630.9 1547.3 633.6 1547.0 636.3 1546.7C638.9 1546.4 641.5 1546.0 644.2 1545.7C646.8 1545.3 649.5 1545.0 652.1 1544.6C654.7 1544.2 657.4 1543.8 660.0 1543.4C662.6 1543.0 665.2 1542.6 667.8 1542.1C670.5 1541.6 673.1 1541.2 675.7 1540.6C678.3 1540.1 680.9 1539.6 683.5 1539.0C686.0 1538.5 688.6 1537.9 691.2 1537.3C693.8 1536.7 696.3 1536.0 698.9 1535.3C701.4 1534.7 704.0 1534.0 706.5 1533.2C709.1 1532.5 711.6 1531.7 714.1 1530.9C716.6 1530.1 719.2 1529.2 721.7 1528.3C724.2 1527.4 726.7 1526.5 729.1 1525.5C731.6 1524.6 734.1 1523.6 736.5 1522.5C739.0 1521.4 741.5 1520.3 743.9 1519.2C746.3 1518.1 748.8 1516.9 751.2 1515.6C753.6 1514.4 756.0 1513.1 758.4 1511.8C760.8 1510.4 762.8 1509.4 765.5 1507.6C769.5 1505.0 775.3 1501.0 780.0 1497.0C785.1 1492.6 790.4 1487.6 795.0 1482.0C799.8 1476.0 804.2 1469.2 808.0 1462.0C811.9 1454.5 815.2 1446.4 818.0 1438.0C820.9 1429.1 823.0 1419.5 825.0 1410.0C827.0 1400.2 828.5 1390.1 830.0 1380.0C831.5 1369.8 833.1 1360.5 834.0 1349.0C835.1 1334.6 834.5 1320.2 835.3 1300.0C836.5 1267.0 840.2 1206.4 841.7 1170.0C842.8 1143.7 843.1 1124.5 844.0 1102.0C844.9 1079.8 846.0 1055.0 847.3 1035.7C848.3 1020.7 849.5 1008.2 850.7 995.9C851.7 985.2 852.9 976.0 854.0 966.1C859.0 958.4 863.2 949.2 868.9 942.9C873.9 937.4 879.4 933.2 885.5 929.6C891.6 926.0 898.1 923.9 905.3 921.4C913.4 918.5 922.6 915.9 931.8 913.7C941.4 911.4 951.2 909.7 961.7 908.1C973.3 906.3 986.3 905.2 998.6 903.8" stroke="#0000ff"/>
<path d="M103.4 1581.8C106.0 1581.6 108.7 1581.4 111.3 1581.2C114.0 1581.0 116.6 1580.8 119.3 1580.6C121.9 1580.5 124.6 1580.3 127.2 1580.1C129.9 1580.0 132.6 1579.8 135.2 1579.7C137.9 1579.5 140.6 1579.4 143.2 1579.2C145.9 1579.1 148.5 1579.0 151.2 1578.9C153.9 1578.7 156.6 1578.6 159.2 1578.5C161.9 1578.3 164.6 1578.2 167.2 1578.1C169.9 1578.0 172.6 1577.9 175.3 1577.7C177.9 1577.6 180.6 1577.5 183.3 1577.4C185.9 1577.2 188.6 1577.1 191.3 1577.0C194.0 1576.8 196.6 1576.7 199.3 1576.6C202.0 1576.4 204.7 1576.3 207.3 1576.1C210.0 1576.0 212.7 1575.8 215.3 1575.6C218.0 1575.5 220.7 1575.3 223.4 1575.1C226.0 1574.9 228.7 1574.7 231.4 1574.5C234.0 1574.3 236.7 1574.1 239.3 1573.9C242.0 1573.7 244.7 1573.4 247.3 1573.2C250.0 1572.9 252.6 1572.7 255.3 1572.4C257.9 1572.1 260.6 1571.8 263.2 1571.5C265.9 1571.2 268.5 1570.9 271.2 1570.5C273.8 1570.2 276.5 1569.8 279.1 1569.4C281.7 1569.0 284.4 1568.6 287.0 1568.2C289.6 1567.8 292.2 1567.4 294.9 1566.9C297.5 1566.5 300.1 1566.0 302.7 1565.5C305.3 1565.0 307.9 1564.4 310.6 1563.9C313.2 1563.4 315.8 1562.8 318.4 1562.2C321.0 1561.7 323.6 1561.1 326.2 1560.5C328.8 1560.0 331.4 1559.4 334.0 1558.8C336.6 1558.2 339.3 1557.7 341.9 1557.1C344.5 1556.5 347.1 1556.0 349.8 1555.4C352.4 1554.9 355.1 1554.4 357.7 1553.8C360.4 1553.3 363.0 1552.8 365.7 1552.4C368.4 1551.9 371.0 1551.5 373.7 1551.1C376.3 1550.8 379.0 1550.5 381.7 1550.4C384.3 1550.2 386.9 1550.1 389.5 1550.2C392.1 1550.3 394.6 1550.5 397.1 1550.9C399.6 1551.4 402.1 1551.9 404.5 1552.7C406.9 1553.6 409.3 1554.6 411.5 1555.8C413.8 1557.1 416.0 1558.6 418.2 1560.2C420.4 1561.9 422.5 1563.7 424.5 1565.6C426.6 1567.4 428.6 1569.4 430.6 1571.3C432.6 1573.2 434.5 1575.2 436.5 1577.1C438.4 1578.9 440.4 1580.6 442.3 1582.3C443.7 1579.9 445.0 1577.4 446.5 1575.1C448.0 1572.8 449.5 1570.5 451.1 1568.4C452.7 1566.2 454.4 1564.1 456.1 1562.0C457.8 1560.0 459.6 1558.0 461.4 1556.1C463.2 1554.2 465.1 1552.3 467.0 1550.5C468.9 1548.7 470.9 1547.0 472.9 1545.3C474.9 1543.6 476.9 1541.9 479.0 1540.3C481.1 1538.7 483.2 1537.2 485.4 1535.6C487.5 1534.1 489.7 1532.6 491.9 1531.2C494.2 1529.7 496.4 1528.3 498.7 1526.9C501.0 1525.5 503.3 1524.1 505.6 1522.8C507.9 1521.4 510.2 1520.1 512.6 1518.8C514.9 1517.5 517.3 1516.2 519.7 1514.9C522.0 1513.6 524.4 1512.4 526.8 1511.1C529.2 1509.8 531.6 1508.6 534.0 1507.3C536.4 1506.0 538.8 1504.8 541.2 1503.5C543.6 1502.2 546.0 1500.9 548.4 1499.7C550.8 1498.4 553.2 1497.1 555.6 1495.7C557.9 1494.4 560.3 1493.1 562.7 1491.7C565.0 1490.4 567.3 1489.0 569.6 1487.6C572.0 1486.2 574.2 1484.8 576.5 1483.3C578.8 1481.8 581.0 1480.3 583.2 1478.8C585.4 1477.2 587.6 1475.7 589.8 1474.1C591.9 1472.5 594.0 1470.8 596.1 1469.1C598.2 1467.4 600.2 1465.7 602.2 1463.9C604.2 1462.2 606.1 1460.3 608.0 1458.5C609.9 1456.6 611.7 1454.7 613.5 1452.8C615.3 1450.8 617.0 1448.8 618.7 1446.8C620.4 1444.7 622.0 1442.6 623.5 1440.5C625.1 1438.4 626.6 1436.2 628.0 1433.9C629.4 1431.7 630.7 1429.4 632.0 1427.0C633.3 1424.7 634.5 1422.3 635.7 1419.9C636.8 1417.5 637.9 1415.0 639.0 1412.5C640.1 1410.1 641.2 1407.6 642.2 1405.1C643.3 1402.6 644.3 1400.1 645.3 1397.6C646.3 1395.1 647.3 1392.5 648.3 1390.1C649.4 1387.6 650.4 1385.1 651.4 1382.6C652.5 1380.2 653.5 1377.8 654.6 1375.4C655.7 1373.0 656.9 1370.7 658.0 1368.3C658.6 1380.5 659.3 1391.0 659.9 1404.9C660.6 1423.5 661.0 1450.3 661.7 1469.8C662.2 1485.7 662.9 1501.3 663.4 1513.1C663.7 1521.2 664.0 1526.8 664.3 1533.6C665.2 1512.3 666.3 1491.2 667.1 1469.8C667.9 1448.3 668.6 1426.5 669.2 1404.9C669.8 1383.3 670.3 1363.4 670.8 1340.0C671.4 1312.5 671.7 1281.0 672.4 1250.3C673.1 1217.8 674.5 1173.4 675.0 1150.0C675.3 1137.4 675.3 1131.8 675.5 1120.8C675.8 1106.3 676.1 1086.4 676.7 1070.6C677.3 1056.5 677.9 1042.9 679.0 1030.5C679.9 1019.7 681.2 1009.5 682.4 1000.4C683.4 992.8 683.7 986.4 685.5 979.4C687.3 972.2 689.7 964.3 693.3 957.8C696.8 951.6 701.0 946.2 706.5 941.2C712.8 935.5 721.0 930.5 729.7 926.3C739.5 921.5 751.6 917.7 762.8 914.7C773.8 911.7 784.9 910.0 796.0 908.1C807.0 906.2 818.0 904.5 829.1 903.1C840.1 901.7 851.5 900.9 862.3 899.8C872.5 898.7 885.3 896.4 892.1 896.5C895.6 896.5 897.3 896.9 900.0 897.5C902.8 898.2 905.7 900.4 908.6 900.5C911.4 900.6 914.2 898.7 917.0 898.0C919.7 897.3 921.5 897.0 925.2 896.5C933.0 895.5 949.5 894.6 961.7 893.9C974.0 893.2 986.3 893.0 998.6 892.5" stroke="#ff0000"/>
<path d="M103.4 1580.0C106.1 1579.7 108.7 1579.4 111.4 1579.0C114.0 1578.7 116.7 1578.4 119.4 1578.1C122.1 1577.8 124.7 1577.4 127.4 1577.1C130.1 1576.8 132.8 1576.5 135.5 1576.2C138.2 1575.8 140.9 1575.5 143.5 1575.2C146.2 1574.9 148.9 1574.5 151.6 1574.2C154.3 1573.8 157.0 1573.5 159.7 1573.2C162.4 1572.8 165.1 1572.4 167.8 1572.1C170.5 1571.7 173.2 1571.3 175.9 1571.0C178.6 1570.6 181.3 1570.2 184.0 1569.8C186.7 1569.4 189.4 1569.0 192.1 1568.5C194.8 1568.1 197.5 1567.7 200.2 1567.2C202.9 1566.8 205.5 1566.3 208.2 1565.8C210.9 1565.3 213.6 1564.8 216.2 1564.3C218.9 1563.8 221.6 1563.3 224.2 1562.7C226.9 1562.2 229.6 1561.6 232.2 1561.0C234.9 1560.4 237.5 1559.8 240.1 1559.2C242.8 1558.6 245.4 1557.9 248.0 1557.2C250.6 1556.6 253.3 1555.9 255.9 1555.1C258.5 1554.4 261.1 1553.7 263.7 1552.9C266.2 1552.1 268.8 1551.3 271.4 1550.5C274.0 1549.7 276.5 1548.8 279.1 1547.9C281.6 1547.1 284.1 1546.2 286.7 1545.2C289.2 1544.3 291.7 1543.3 294.2 1542.3C296.7 1541.3 299.2 1540.3 301.7 1539.2C304.1 1538.1 306.6 1537.0 309.0 1535.9C311.5 1534.8 313.9 1533.6 316.3 1532.4C318.8 1531.2 321.2 1530.0 323.6 1528.7C325.9 1527.4 328.3 1526.1 330.7 1524.7C333.0 1523.4 335.4 1522.0 337.7 1520.5C340.0 1519.1 342.3 1517.6 344.6 1516.1C346.9 1514.6 349.2 1513.1 351.5 1511.6C353.8 1510.0 356.1 1508.5 358.4 1507.0C360.7 1505.5 363.0 1504.0 365.3 1502.6C367.7 1501.2 370.0 1499.8 372.5 1498.5C374.9 1497.2 377.3 1496.0 379.8 1494.9C382.3 1493.8 384.9 1492.6 387.5 1491.8C390.0 1491.0 392.7 1490.2 395.3 1490.0C397.8 1489.8 400.5 1489.9 402.9 1490.4C405.4 1491.0 407.8 1492.2 410.0 1493.5C412.2 1494.8 414.2 1496.5 416.1 1498.3C418.0 1500.1 419.6 1502.1 421.2 1504.3C422.7 1506.5 424.0 1508.9 425.3 1511.3C426.6 1513.7 427.7 1516.3 428.7 1519.0C429.8 1521.6 430.7 1524.4 431.7 1527.1C432.6 1529.9 433.4 1532.7 434.2 1535.4C435.0 1538.2 435.8 1541.0 436.6 1543.7C437.4 1546.4 438.1 1549.1 439.0 1551.7C439.8 1554.2 440.6 1556.7 441.5 1559.1C442.4 1561.4 443.4 1563.7 444.3 1566.0C445.2 1568.4 446.1 1570.8 447.0 1573.3C447.9 1575.9 448.7 1578.8 449.5 1581.5C452.1 1568.9 454.8 1555.9 457.3 1543.6C459.7 1531.8 462.0 1520.1 464.2 1509.0C466.3 1498.6 467.8 1485.0 470.2 1478.8C471.4 1475.8 472.6 1473.6 474.0 1472.5C475.0 1471.7 476.1 1471.8 477.1 1471.5C478.3 1486.9 479.4 1501.7 480.6 1517.7C481.9 1534.9 483.5 1553.4 484.9 1571.2C485.2 1556.2 485.4 1541.8 485.7 1526.3C486.0 1509.7 486.3 1490.0 486.6 1474.5C486.8 1461.8 487.1 1451.9 487.3 1440.0C487.5 1427.2 487.8 1414.0 488.0 1400.0C488.2 1384.4 488.2 1370.0 488.5 1350.6C488.9 1323.0 489.2 1283.7 490.2 1250.3C491.2 1216.9 493.7 1173.4 494.5 1150.0C494.9 1137.4 494.7 1131.5 495.2 1120.8C495.9 1107.7 497.0 1090.8 498.5 1077.3C499.8 1065.4 501.6 1055.0 503.5 1043.9C505.5 1032.7 507.4 1021.5 510.2 1010.4C513.0 999.2 516.0 987.1 520.2 977.0C524.0 967.8 528.4 959.3 533.6 951.9C538.5 945.0 543.8 938.7 550.3 933.5C557.1 928.1 565.0 923.9 573.7 920.2C583.7 915.9 596.0 912.9 607.2 910.1C618.3 907.3 629.4 905.2 640.6 903.4C651.7 901.6 663.8 900.2 674.0 899.4C682.5 898.7 692.3 898.0 697.4 898.4C699.9 898.6 701.4 899.2 703.0 899.5C704.2 899.7 705.0 900.2 706.0 900.0C707.0 899.8 708.0 898.9 709.0 898.0C710.2 897.0 711.3 895.2 712.5 894.0C713.6 892.9 714.8 892.0 716.0 891.0" stroke="#ff6622"/>
<path d="M103.4 1576.8C106.0 1576.5 108.6 1576.2 111.2 1575.9C113.8 1575.5 116.5 1575.1 119.1 1574.8C121.7 1574.4 124.4 1573.9 127.0 1573.5C129.7 1573.0 132.3 1572.6 135.0 1572.1C137.7 1571.6 140.3 1571.0 143.0 1570.5C145.7 1569.9 148.3 1569.3 151.0 1568.7C153.7 1568.1 156.4 1567.4 159.0 1566.8C161.7 1566.1 164.4 1565.4 167.0 1564.6C169.7 1563.9 172.3 1563.1 175.0 1562.3C177.6 1561.5 180.3 1560.7 182.9 1559.8C185.5 1558.9 188.1 1558.0 190.7 1557.1C193.3 1556.1 195.9 1555.2 198.5 1554.2C201.0 1553.2 203.6 1552.1 206.1 1551.0C208.7 1550.0 211.2 1548.9 213.7 1547.7C216.2 1546.6 218.6 1545.4 221.1 1544.2C223.5 1542.9 225.9 1541.7 228.3 1540.4C230.7 1539.1 233.1 1537.7 235.5 1536.4C237.8 1535.0 240.1 1533.6 242.4 1532.1C244.7 1530.7 246.9 1529.2 249.1 1527.6C251.3 1526.1 253.5 1524.5 255.7 1522.9C257.8 1521.3 259.9 1519.7 262.0 1518.0C264.0 1516.3 266.0 1514.5 268.0 1512.7C270.0 1511.0 272.0 1509.1 273.8 1507.3C275.7 1505.4 277.6 1503.5 279.4 1501.5C281.2 1499.6 282.9 1497.5 284.6 1495.5C286.4 1493.5 288.0 1491.4 289.6 1489.2C291.2 1487.1 292.8 1484.9 294.3 1482.7C295.9 1480.5 297.3 1478.3 298.8 1476.0C300.2 1473.7 301.6 1471.4 302.9 1469.1C304.3 1466.8 305.6 1464.4 306.8 1462.0C308.1 1459.6 309.3 1457.2 310.4 1454.7C311.6 1452.3 312.7 1449.8 313.8 1447.3C314.9 1444.8 316.0 1442.3 317.0 1439.7C318.0 1437.2 318.9 1434.6 319.9 1432.0C320.8 1429.4 321.7 1426.8 322.5 1424.2C323.4 1421.6 324.2 1419.0 324.9 1416.4C325.7 1413.7 326.4 1411.1 327.1 1408.4C327.8 1405.8 328.5 1403.1 329.1 1400.4C329.7 1397.7 330.3 1395.1 330.8 1392.4C331.4 1389.7 331.9 1387.0 332.4 1384.3C332.8 1381.6 333.3 1379.0 333.7 1376.3C334.1 1373.6 334.4 1370.9 334.8 1368.2C335.1 1365.5 335.4 1363.9 335.7 1360.2C336.5 1351.9 337.6 1336.0 338.5 1320.0C339.8 1296.4 340.7 1262.9 341.8 1232.5C343.0 1199.4 344.4 1163.4 345.7 1128.9C347.0 1094.4 348.5 1057.3 349.6 1025.3C350.6 997.6 350.6 967.7 352.2 947.7C353.2 935.0 355.0 926.1 356.1 916.6C357.1 908.6 358.1 898.9 358.6 894.6C358.8 892.8 358.9 892.0 359.0 890.7" stroke="#7d2a9c"/>
<path d="M103.4 1570.5C106.1 1570.0 108.8 1569.7 111.5 1569.1C114.2 1568.6 116.8 1568.0 119.5 1567.4C122.1 1566.8 124.8 1566.1 127.4 1565.3C130.0 1564.6 132.6 1563.7 135.2 1562.9C137.7 1562.0 140.3 1561.1 142.8 1560.1C145.3 1559.1 147.8 1558.0 150.2 1556.9C152.7 1555.8 155.1 1554.6 157.5 1553.4C159.9 1552.2 162.3 1550.9 164.6 1549.5C166.9 1548.2 169.2 1546.8 171.4 1545.3C173.6 1543.9 175.8 1542.4 178.0 1540.8C180.1 1539.2 182.2 1537.6 184.3 1535.9C186.3 1534.3 188.3 1532.5 190.2 1530.7C192.2 1528.9 194.1 1527.1 195.9 1525.2C197.7 1523.3 199.5 1521.4 201.2 1519.3C203.0 1517.3 204.6 1515.3 206.2 1513.2C207.8 1511.1 209.3 1508.9 210.8 1506.7C212.3 1504.5 213.7 1502.2 215.0 1499.9C216.3 1497.6 217.6 1495.3 218.8 1492.9C220.1 1490.5 221.2 1488.1 222.3 1485.6C223.4 1483.2 224.5 1480.7 225.5 1478.2C226.5 1475.7 227.4 1473.1 228.3 1470.6C229.2 1468.0 230.0 1465.4 230.8 1462.8C231.5 1460.2 232.3 1457.6 232.9 1454.9C233.6 1452.3 234.2 1449.6 234.8 1447.0C235.4 1444.3 235.9 1441.7 236.4 1439.0C236.8 1436.3 237.2 1433.6 237.6 1430.9C238.0 1428.3 238.3 1425.6 238.6 1422.9C238.9 1420.3 239.1 1417.6 239.3 1414.9C239.5 1412.3 239.7 1410.7 239.8 1407.0C240.1 1398.8 240.3 1379.7 240.5 1366.9C240.7 1355.2 240.8 1344.6 241.1 1333.4C241.4 1322.3 241.7 1314.6 242.1 1300.0C242.8 1272.5 243.7 1223.1 244.7 1180.7C245.8 1132.3 247.3 1068.2 248.6 1025.3C249.5 995.0 249.8 969.1 251.2 947.7C252.2 932.5 253.8 919.3 255.1 908.8C256.0 901.6 256.8 896.7 257.7 890.7L999.8 890.7" stroke="#00ff00"/>
</g>
<rect x="766.8" y="1348.5" width="234" height="231.2" fill="#fff" stroke="#4d4d4d" stroke-width="1.8"/>
<path d="M774.9 1374.3H857.6" stroke="#0000ff" stroke-width="8.2" fill="none"/>
<text x="863.5" y="1377.6" style="font-family:'Liberation Serif','DejaVu Serif',serif;font-weight:bold;font-size:26.4px" fill="#262626">E<tspan dy="12" dx="1.2" style="font-size:20px">f</tspan><tspan dy="-12" style="letter-spacing:0.65px">=0.28 eV</tspan></text>
<path d="M774.9 1419.2H857.6" stroke="#ff0000" stroke-width="8.2" fill="none"/>
<text x="863.5" y="1423.0" style="font-family:'Liberation Serif','DejaVu Serif',serif;font-weight:bold;font-size:26.4px" fill="#262626">E<tspan dy="12" dx="1.2" style="font-size:20px">f</tspan><tspan dy="-12" style="letter-spacing:0.65px">=0.32 eV</tspan></text>
<path d="M774.9 1465.8H857.6" stroke="#ff6622" stroke-width="8.2" fill="none"/>
<text x="863.5" y="1468.4" style="font-family:'Liberation Serif','DejaVu Serif',serif;font-weight:bold;font-size:26.4px" fill="#262626">E<tspan dy="12" dx="1.2" style="font-size:20px">f</tspan><tspan dy="-12" style="letter-spacing:0.65px">=0.38 eV</tspan></text>
<path d="M774.9 1509.7H857.6" stroke="#7d2a9c" stroke-width="8.2" fill="none"/>
<text x="863.5" y="1513.8" style="font-family:'Liberation Serif','DejaVu Serif',serif;font-weight:bold;font-size:26.4px" fill="#262626">E<tspan dy="12" dx="1.2" style="font-size:20px">f</tspan><tspan dy="-12" style="letter-spacing:0.65px">=0.44 eV</tspan></text>
<path d="M774.9 1556.0H857.6" stroke="#00ff00" stroke-width="8.2" fill="none"/>
<text x="863.5" y="1559.2" style="font-family:'Liberation Serif','DejaVu Serif',serif;font-weight:bold;font-size:26.4px" fill="#262626">E<tspan dy="12" dx="1.2" style="font-size:20px">f</tspan><tspan dy="-12" style="letter-spacing:0.65px">=0.5 eV</tspan></text>
</svg>
</body></html>
